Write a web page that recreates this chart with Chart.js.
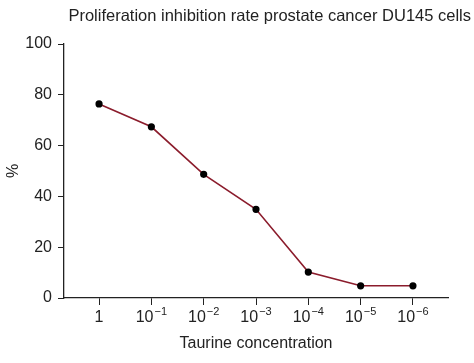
<!DOCTYPE html>
<html>
<head>
<meta charset="utf-8">
<script src="https://cdn.jsdelivr.net/npm/chart.js@4"></script>
<style>
  html, body { margin: 0; padding: 0; background: #fff; }
  #wrap { width: 474px; height: 363px; }
</style>
</head>
<body>
<div id="wrap"><canvas id="myChart"></canvas></div>
<script>
  // concentrations as printed under the axis: base and exponent
  let concBase = ['1', '10', '10', '10', '10', '10', '10'];
  let concExp = ['', '−1', '−2', '−3', '−4', '−5', '−6'];
  // inhibition rate, %
  let inhibition = [76.4, 67.4, 48.7, 34.9, 10.2, 4.8, 4.8];
  let yTicks = [0, 20, 40, 60, 80, 100];

  let chartTitle = 'Proliferation inhibition rate prostate cancer DU145 cells';
  let font = 'Liberation Sans, Arial, Helvetica, sans-serif';
  let ink = '#222';

  // title and the 10^-n tick labels, drawn as text with real superscripts
  let textPlugin = {
    id: 'textPlugin',
    afterDraw(chart) {
      let c = chart.ctx;
      c.save();
      c.fillStyle = ink;
      c.textBaseline = 'middle';
      c.font = '16.5px ' + font;
      c.textAlign = 'right';
      c.fillText(chartTitle, chart.width - 3, 16);

      let x = chart.scales.x;
      let y0 = x.top + 20;
      concBase.forEach((b, i) => {
        let px = x.getPixelForValue(i);
        c.font = '16px ' + font;
        let wb = c.measureText(b).width;
        c.font = '11px ' + font;
        let we = concExp[i] ? c.measureText(concExp[i]).width + 1 : 0;
        let start = px - (wb + we) / 2;
        c.textAlign = 'left';
        c.font = '16px ' + font;
        c.fillText(b, start, y0);
        if (concExp[i]) {
          c.font = '11px ' + font;
          c.fillText(concExp[i], start + wb + 1, y0 - 6);
        }
      });
      c.restore();
    }
  };

  let ctx = document.getElementById('myChart').getContext('2d');

  let rateChart = new Chart(ctx, {
    type: 'line',
    data: {
      datasets: [{
        label: 'inhibition',
        data: inhibition.map((v, i) => ({ x: i, y: v })),
        borderColor: '#8b1c2c',
        borderWidth: 1.6,
        backgroundColor: '#000',
        pointBackgroundColor: '#000',
        pointBorderColor: '#000',
        pointRadius: 2.8,
        tension: 0,
      }]
    },
    plugins: [textPlugin],
    options: {
      responsive: true,
      maintainAspectRatio: false,
      animation: false,
      layout: { padding: { left: 0, right: 26, top: 44, bottom: 0 } },
      plugins: {
        legend: { display: false },
        tooltip: { enabled: false },
        title: { display: false },
      },
      scales: {
        x: {
          type: 'linear',
          min: -0.67,
          max: 6.67,
          afterBuildTicks: (scale) => {
            scale.ticks = concBase.map((_, i) => ({ value: i }));
          },
          afterFit: (scale) => { scale.height = 65; },
          ticks: { display: false },
          grid: { display: true, drawOnChartArea: false, tickLength: 7, color: ink, lineWidth: 1 },
          border: { display: true, color: ink, width: 1.3 },
          title: {
            display: true,
            text: 'Taurine concentration',
            color: ink,
            font: { family: font, size: 16 },
            padding: { top: 4, bottom: 10 },
          }
        },
        y: {
          min: 0,
          max: 100,
          afterBuildTicks: (scale) => {
            scale.ticks = yTicks.map((v) => ({ value: v }));
          },
          afterFit: (scale) => { scale.width = 64; },
          ticks: {
            color: ink,
            font: { family: font, size: 16 },
            padding: 6,
          },
          grid: { display: true, drawOnChartArea: false, tickLength: 6, color: ink, lineWidth: 1 },
          border: { display: true, color: ink, width: 1.3 },
          title: {
            display: true,
            text: '%',
            color: ink,
            font: { family: font, size: 16 },
            padding: { bottom: 0 },
          }
        }
      }
    }
  });
</script>
</body>
</html>
